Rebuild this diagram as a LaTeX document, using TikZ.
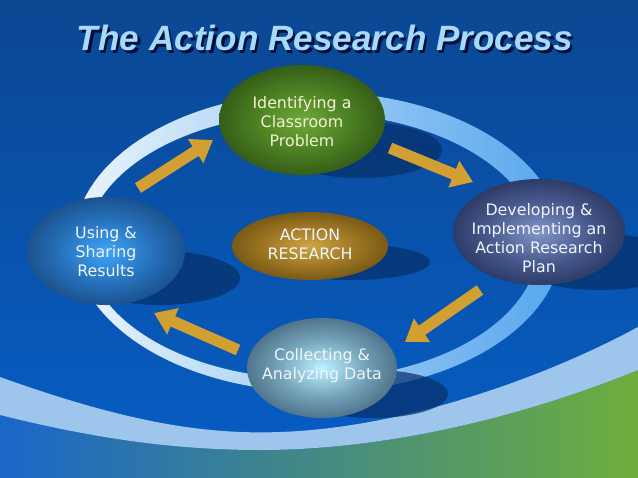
\documentclass[tikz,border=0pt]{standalone}
\usepackage{fontspec}
\setmainfont{DejaVu Sans}
\newfontfamily\titlefont{Liberation Sans}
\usetikzlibrary{arrows.meta,shapes.geometric}
\definecolor{bgTop}{HTML}{0B4792}
\definecolor{bgBot}{HTML}{065EC6}
\definecolor{lowL}{HTML}{1A66CA}
\definecolor{lowM}{HTML}{4A8EA8}
\definecolor{lowR}{HTML}{6EAE3C}
\definecolor{bandc}{HTML}{9EC6EC}
\definecolor{ringL}{HTML}{EAF4FC}
\definecolor{ringR}{HTML}{56A6EE}
\definecolor{shadowc}{HTML}{06306A}
\definecolor{arrowc}{HTML}{D2A032}
\definecolor{titlec}{HTML}{A6DAF8}
\definecolor{idtext}{HTML}{F4F0D2}
\definecolor{lbltext}{HTML}{F0F4FF}
\definecolor{gIn}{HTML}{6EA838}
\definecolor{gMid}{HTML}{4A7E22}
\definecolor{gOut}{HTML}{22400E}
\definecolor{uIn}{HTML}{3EA6F6}
\definecolor{uMid}{HTML}{2670BA}
\definecolor{uOut}{HTML}{123868}
\definecolor{aIn}{HTML}{CEA444}
\definecolor{aMid}{HTML}{9C7622}
\definecolor{aOut}{HTML}{5A400A}
\definecolor{dIn}{HTML}{8296C8}
\definecolor{dMid}{HTML}{46588C}
\definecolor{dOut}{HTML}{162248}
\definecolor{cIn}{HTML}{BCF2FF}
\definecolor{cMid}{HTML}{72A0B6}
\definecolor{cOut}{HTML}{324E66}
\pgfdeclareradialshading{shG}{\pgfpointorigin}{color(0bp)=(gIn); color(15bp)=(gMid); color(34bp)=(gOut); color(50bp)=(gOut)}
\pgfdeclareradialshading{shU}{\pgfpointorigin}{color(0bp)=(uIn); color(15bp)=(uMid); color(34bp)=(uOut); color(50bp)=(uOut)}
\pgfdeclareradialshading{shA}{\pgfpointorigin}{color(0bp)=(aIn); color(15bp)=(aMid); color(34bp)=(aOut); color(50bp)=(aOut)}
\pgfdeclareradialshading{shD}{\pgfpointorigin}{color(0bp)=(dIn); color(15bp)=(dMid); color(34bp)=(dOut); color(50bp)=(dOut)}
\pgfdeclareradialshading{shC}{\pgfpointorigin}{color(0bp)=(cIn); color(15bp)=(cMid); color(34bp)=(cOut); color(50bp)=(cOut)}
\begin{document}
\begin{tikzpicture}[x=0.03cm,y=-0.03cm,
  oval/.style 2 args={draw=none, ellipse, minimum width=#1*0.03cm, minimum height=#2*0.03cm, inner sep=0pt},
  lbl/.style={align=center, inner sep=0pt, font=\fontsize{13.5}{16.2}\selectfont, text=#1},
  shadowfill/.style={fill=shadowc, opacity=0.72},
  flow/.style={draw=arrowc, line width=0.34cm, line cap=butt, -{Triangle[length=0.62cm,width=0.82cm]}}
]
\useasboundingbox (0,0) rectangle (638,478);
\begin{scope}
\clip (0,0) rectangle (638,478);
% background
\shade[top color=bgTop, bottom color=bgBot] (0,0) rectangle (638,478);
% lower gradient region
\shade[left color=lowL, middle color=lowM, right color=lowR] (0,415) .. controls (100,440) and (180,450) .. (260,450) .. controls (400,450) and (540,410) .. (638,370) -- (638,478) -- (0,478) -- cycle;
% light band
\fill[bandc] (0,377) .. controls (120,420) and (200,435) .. (280,432) .. controls (400,428) and (540,380) .. (638,327) -- (638,370) .. controls (540,410) and (400,450) .. (260,450) .. controls (180,450) and (100,440) .. (0,415) -- cycle;
% ring
\path[even odd rule, left color=ringL, right color=ringR] (318,242) ellipse [x radius=244, y radius=150] (312,246) ellipse [x radius=226, y radius=133];
% shadows
\fill[shadowfill] (360,150) ellipse [x radius=82, y radius=28];
\fill[shadowfill] (160,278) ellipse [x radius=80, y radius=27];
\fill[shadowfill] (352,262) ellipse [x radius=78, y radius=18];
\fill[shadowfill] (600,262) ellipse [x radius=86, y radius=28];
\fill[shadowfill] (373,394) ellipse [x radius=75, y radius=24];
\end{scope}
% arrows
\coordinate (a1s) at (138,188); \coordinate (a1e) at (213,140);
\coordinate (a2s) at (390,148); \coordinate (a2e) at (473,182);
\coordinate (a3s) at (480,290); \coordinate (a3e) at (405,342);
\coordinate (a4s) at (238,350); \coordinate (a4e) at (154,313);
\draw[flow] (a1s) -- (a1e);
\draw[flow] (a2s) -- (a2e);
\draw[flow] (a3s) -- (a3e);
\draw[flow] (a4s) -- (a4e);
% ellipses
\node[oval={166}{110}, shading=shG] (idbg) at (302,120) {};
\node[oval={158}{108}, shading=shU] (usebg) at (106,251) {};
\node[oval={156}{68}, shading=shA] (actbg) at (310,246) {};
\node[oval={172}{106}, shading=shD] (devbg) at (539,232) {};
\node[oval={150}{100}, shading=shC] (colbg) at (322,368) {};
% labels
\node[lbl=idtext] (id) at (302,122) {Identifying a\\Classroom\\Problem};
\node[lbl=lbltext] (use) at (106,252) {Using \&\\Sharing\\Results};
\node[lbl=lbltext] (act) at (310,244) {ACTION\\RESEARCH};
\node[lbl=lbltext] (dev) at (539,238) {Developing \&\\Implementing an\\Action Research\\Plan};
\node[lbl=lbltext] (col) at (322,366) {Collecting \&\\Analyzing Data};
% title
\node[font=\titlefont\fontsize{30}{36}\selectfont\bfseries\itshape, text=black!85!blue, opacity=0.8] (titleshadow) at (327.5,40.5) {The Action Research Process};
\node[font=\titlefont\fontsize{30}{36}\selectfont\bfseries\itshape, text=titlec] (title) at (325,38) {The Action Research Process};
\end{tikzpicture}
\end{document}
